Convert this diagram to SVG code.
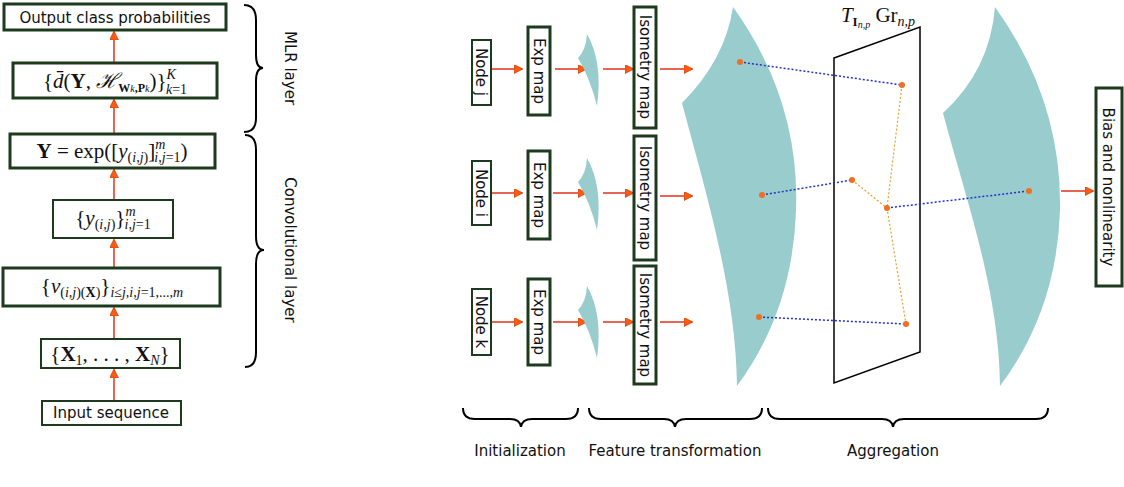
<svg xmlns="http://www.w3.org/2000/svg" width="1124" height="487" viewBox="0 0 1124 487">
<defs>
<marker id="ah" viewBox="0 0 10 10" refX="9" refY="5" markerWidth="6" markerHeight="6" orient="auto"><path d="M0,0 L10,5 L0,10 z" fill="#ff5a14" stroke="#c43a00" stroke-width="0.8"/></marker>
<style>
.box{fill:#fff;stroke:#1e3a1e;stroke-width:3}
.sbox{fill:#fff;stroke:#1e3a1e;stroke-width:2}
.t{font-family:"DejaVu Sans",sans-serif;font-size:15px;fill:#111}
.m{font-family:"Liberation Serif",serif;font-size:21px;fill:#111}
.a{stroke:#e0301a;stroke-width:1.5;fill:none;marker-end:url(#ah)}
.sh{fill:#99cccc}
.br{fill:none;stroke:#000;stroke-width:2}
.bd{stroke:#2233cc;stroke-width:1.5;stroke-dasharray:2 2;fill:none}
.od{stroke:#e8a030;stroke-width:1.2;stroke-dasharray:2 2;fill:none}
.pt{fill:#f07020}
</style>
</defs>
<g id="connectors">
<line class="a" x1="114" y1="63" x2="114" y2="32"/>
<line class="a" x1="114" y1="134" x2="114" y2="100"/>
<line class="a" x1="114" y1="200" x2="114" y2="170"/>
<line class="a" x1="114" y1="268" x2="114" y2="240"/>
<line class="a" x1="114" y1="339" x2="114" y2="308"/>
<line class="a" x1="114" y1="401" x2="114" y2="370"/>
<line class="a" x1="491" y1="69" x2="522" y2="69"/>
<line class="a" x1="555" y1="69" x2="586" y2="69"/>
<line class="a" x1="603" y1="69" x2="633" y2="69"/>
<line class="a" x1="660" y1="69" x2="692" y2="69"/>
<line class="a" x1="491" y1="193" x2="522" y2="193"/>
<line class="a" x1="553" y1="193" x2="586" y2="193"/>
<line class="a" x1="603" y1="193" x2="633" y2="193"/>
<line class="a" x1="660" y1="196" x2="692" y2="196"/>
<line class="a" x1="491" y1="322" x2="522" y2="322"/>
<line class="a" x1="553" y1="322" x2="586" y2="322"/>
<line class="a" x1="603" y1="322" x2="633" y2="322"/>
<line class="a" x1="660" y1="322" x2="692" y2="322"/>
<line class="a" x1="1061" y1="191" x2="1093" y2="191"/>
</g>
<g id="out"><rect class="box" x="4" y="4" width="222" height="26"/><text class="t" x="115" y="23" text-anchor="middle">Output class probabilities</text></g>
<g id="dist"><rect class="box" x="13" y="63" width="204" height="35"/><text class="m" x="115" y="88" text-anchor="middle">{<tspan font-style="italic">d̄</tspan>(<tspan font-weight="bold">Y</tspan>, <tspan font-style="italic">ℋ</tspan><tspan font-size="12" dy="4" font-weight="bold">W<tspan font-style="italic" font-weight="normal" font-size="10">k</tspan>,P<tspan font-style="italic" font-weight="normal" font-size="10">k</tspan></tspan><tspan dy="-4">)}</tspan><tspan font-size="14" font-style="italic" dy="-9">K</tspan><tspan font-size="14" dx="-10" dy="15"><tspan font-style="italic">k</tspan>=1</tspan></text></g>
<g id="yexp"><rect class="box" x="10" y="134" width="205" height="34"/><text class="m" x="112" y="158" text-anchor="middle"><tspan font-weight="bold">Y</tspan> = exp([<tspan font-style="italic">y</tspan><tspan font-size="14" dy="4">(<tspan font-style="italic">i,j</tspan>)</tspan><tspan dy="-4">]</tspan><tspan font-size="14" font-style="italic" dy="-9">m</tspan><tspan font-size="14" dx="-11" dy="13"><tspan font-style="italic">i,j</tspan>=1</tspan><tspan dy="-4">)</tspan></text></g>
<g id="yset"><rect class="sbox" x="53" y="200" width="120" height="38"/><text class="m" x="113" y="225" text-anchor="middle">{<tspan font-style="italic">y</tspan><tspan font-size="14" dy="4">(<tspan font-style="italic">i,j</tspan>)</tspan><tspan dy="-4">}</tspan><tspan font-size="14" font-style="italic" dy="-9">m</tspan><tspan font-size="14" dx="-11" dy="13"><tspan font-style="italic">i,j</tspan>=1</tspan></text></g>
<g id="vset"><rect class="box" x="3" y="268" width="217" height="38"/><text class="m" x="112" y="293" text-anchor="middle">{<tspan font-style="italic">v</tspan><tspan font-size="14" dy="4">(<tspan font-style="italic">i,j</tspan>)(<tspan font-weight="bold">X</tspan>)</tspan><tspan dy="-4">}</tspan><tspan font-size="14" dy="4"><tspan font-style="italic">i</tspan>≤<tspan font-style="italic">j,i,j</tspan>=1,...,<tspan font-style="italic">m</tspan></tspan></text></g>
<g id="xset"><rect class="sbox" x="41" y="339" width="139" height="29"/><text class="m" x="110" y="361" text-anchor="middle">{<tspan font-weight="bold">X</tspan><tspan font-size="14" dy="4">1</tspan><tspan dy="-4">, . . . , </tspan><tspan font-weight="bold">X</tspan><tspan font-size="14" font-style="italic" dy="4">N</tspan><tspan dy="-4">}</tspan></text></g>
<g id="input"><rect class="sbox" x="42" y="401" width="139" height="24"/><text class="t" x="111" y="418" text-anchor="middle">Input sequence</text></g>
<path class="br" d="M244,5 Q256,5 256,20 L256,55 Q256,68 263,68 Q256,68 256,81 L256,118 Q256,132 244,132"/>
<text class="t" transform="translate(285,68) rotate(90)" text-anchor="middle">MLR layer</text>
<path class="br" d="M245,135 Q256,135 256,150 L256,236 Q256,250 264,250 Q256,250 256,264 L256,352 Q256,367 245,367"/>
<text class="t" transform="translate(285,250) rotate(90)" text-anchor="middle">Convolutional layer</text>
<g id="nodej"><rect class="sbox" x="472" y="40" width="19" height="65"/><text class="t" transform="translate(476,72) rotate(90)" text-anchor="middle">Node j</text></g>
<g id="nodei"><rect class="sbox" x="472" y="161" width="19" height="64"/><text class="t" transform="translate(476,193) rotate(90)" text-anchor="middle">Node i</text></g>
<g id="nodek"><rect class="sbox" x="472" y="289" width="19" height="66"/><text class="t" transform="translate(476,322) rotate(90)" text-anchor="middle">Node k</text></g>
<g id="exp1"><rect class="box" x="528" y="27" width="22" height="88"/><text class="t" transform="translate(534,71) rotate(90)" text-anchor="middle">Exp map</text></g>
<g id="exp2"><rect class="box" x="528" y="151" width="22" height="88"/><text class="t" transform="translate(534,195) rotate(90)" text-anchor="middle">Exp map</text></g>
<g id="exp3"><rect class="box" x="528" y="279" width="22" height="86"/><text class="t" transform="translate(534,322) rotate(90)" text-anchor="middle">Exp map</text></g>
<g id="iso1"><rect class="box" x="634" y="7" width="22" height="121"/><text class="t" transform="translate(640,67) rotate(90)" text-anchor="middle">Isometry map</text></g>
<g id="iso2"><rect class="box" x="634" y="136" width="22" height="124"/><text class="t" transform="translate(640,198) rotate(90)" text-anchor="middle">Isometry map</text></g>
<g id="iso3"><rect class="box" x="634" y="266" width="22" height="118"/><text class="t" transform="translate(640,325) rotate(90)" text-anchor="middle">Isometry map</text></g>
<path class="sh" d="M587,34 Q603,62 597,106 Q590,78 578,58 Q586,50 587,34 Z"/>
<path class="sh" d="M587,158 Q603,186 597,230 Q590,202 578,182 Q586,174 587,158 Z"/>
<path class="sh" d="M587,286 Q603,314 597,358 Q590,330 578,310 Q586,302 587,286 Z"/>
<path class="sh" d="M733,7 Q800,100 796,210 Q793,310 737,386 C736,290 705,190 682,103 Q725,60 733,7 Z"/>
<path class="sh" d="M995,7 Q1062,100 1060,210 Q1057,310 1000,386 C999,290 966,200 943,113 Q990,70 995,7 Z"/>
<polygon points="834,58 920,27 920,352 834,383" fill="none" stroke="#000" stroke-width="1.5"/>
<text class="m" x="878" y="22" text-anchor="middle"><tspan font-style="italic">T</tspan><tspan font-size="13" font-weight="bold" dy="4">I</tspan><tspan font-size="10" font-style="italic" dy="2">n,p</tspan><tspan dy="-6"> Gr</tspan><tspan font-size="14" font-style="italic" dy="4">n,p</tspan></text>
<g id="links">
<line class="bd" x1="740" y1="62" x2="902" y2="85"/>
<line class="bd" x1="762" y1="195" x2="852" y2="180"/>
<line class="bd" x1="887" y1="208" x2="1029" y2="191"/>
<line class="bd" x1="759" y1="317" x2="906" y2="324"/>
<line class="od" x1="902" y1="85" x2="887" y2="208"/>
<line class="od" x1="852" y1="180" x2="887" y2="208"/>
<line class="od" x1="887" y1="208" x2="906" y2="324"/>
<circle class="pt" cx="740" cy="62" r="3"/><circle class="pt" cx="902" cy="85" r="3"/>
<circle class="pt" cx="762" cy="195" r="3"/><circle class="pt" cx="852" cy="180" r="3"/>
<circle class="pt" cx="887" cy="208" r="3"/><circle class="pt" cx="1029" cy="191" r="3"/>
<circle class="pt" cx="759" cy="317" r="3"/><circle class="pt" cx="906" cy="324" r="3"/>
</g>
<g id="bias"><rect class="box" x="1096" y="88" width="26" height="198"/><text class="t" font-size="16" transform="translate(1103,187) rotate(90)" text-anchor="middle">Bias and nonlinearity</text></g>
<path class="br" stroke-width="1.5" d="M463,408 Q463,419 475,419 L510,419 Q520,419 521,427 Q522,419 532,419 L566,419 Q578,419 578,408"/>
<text class="t" x="520" y="456" text-anchor="middle">Initialization</text>
<path class="br" stroke-width="1.5" d="M589,408 Q589,419 601,419 L664,419 Q674,419 675,427 Q676,419 686,419 L750,419 Q762,419 762,408"/>
<text class="t" x="675" y="456" text-anchor="middle">Feature transformation</text>
<path class="br" stroke-width="1.5" d="M768,408 Q768,419 780,419 L882,419 Q892,419 893,427 Q894,419 904,419 L1036,419 Q1048,419 1048,408"/>
<text class="t" x="893" y="456" text-anchor="middle">Aggregation</text>
</svg>
